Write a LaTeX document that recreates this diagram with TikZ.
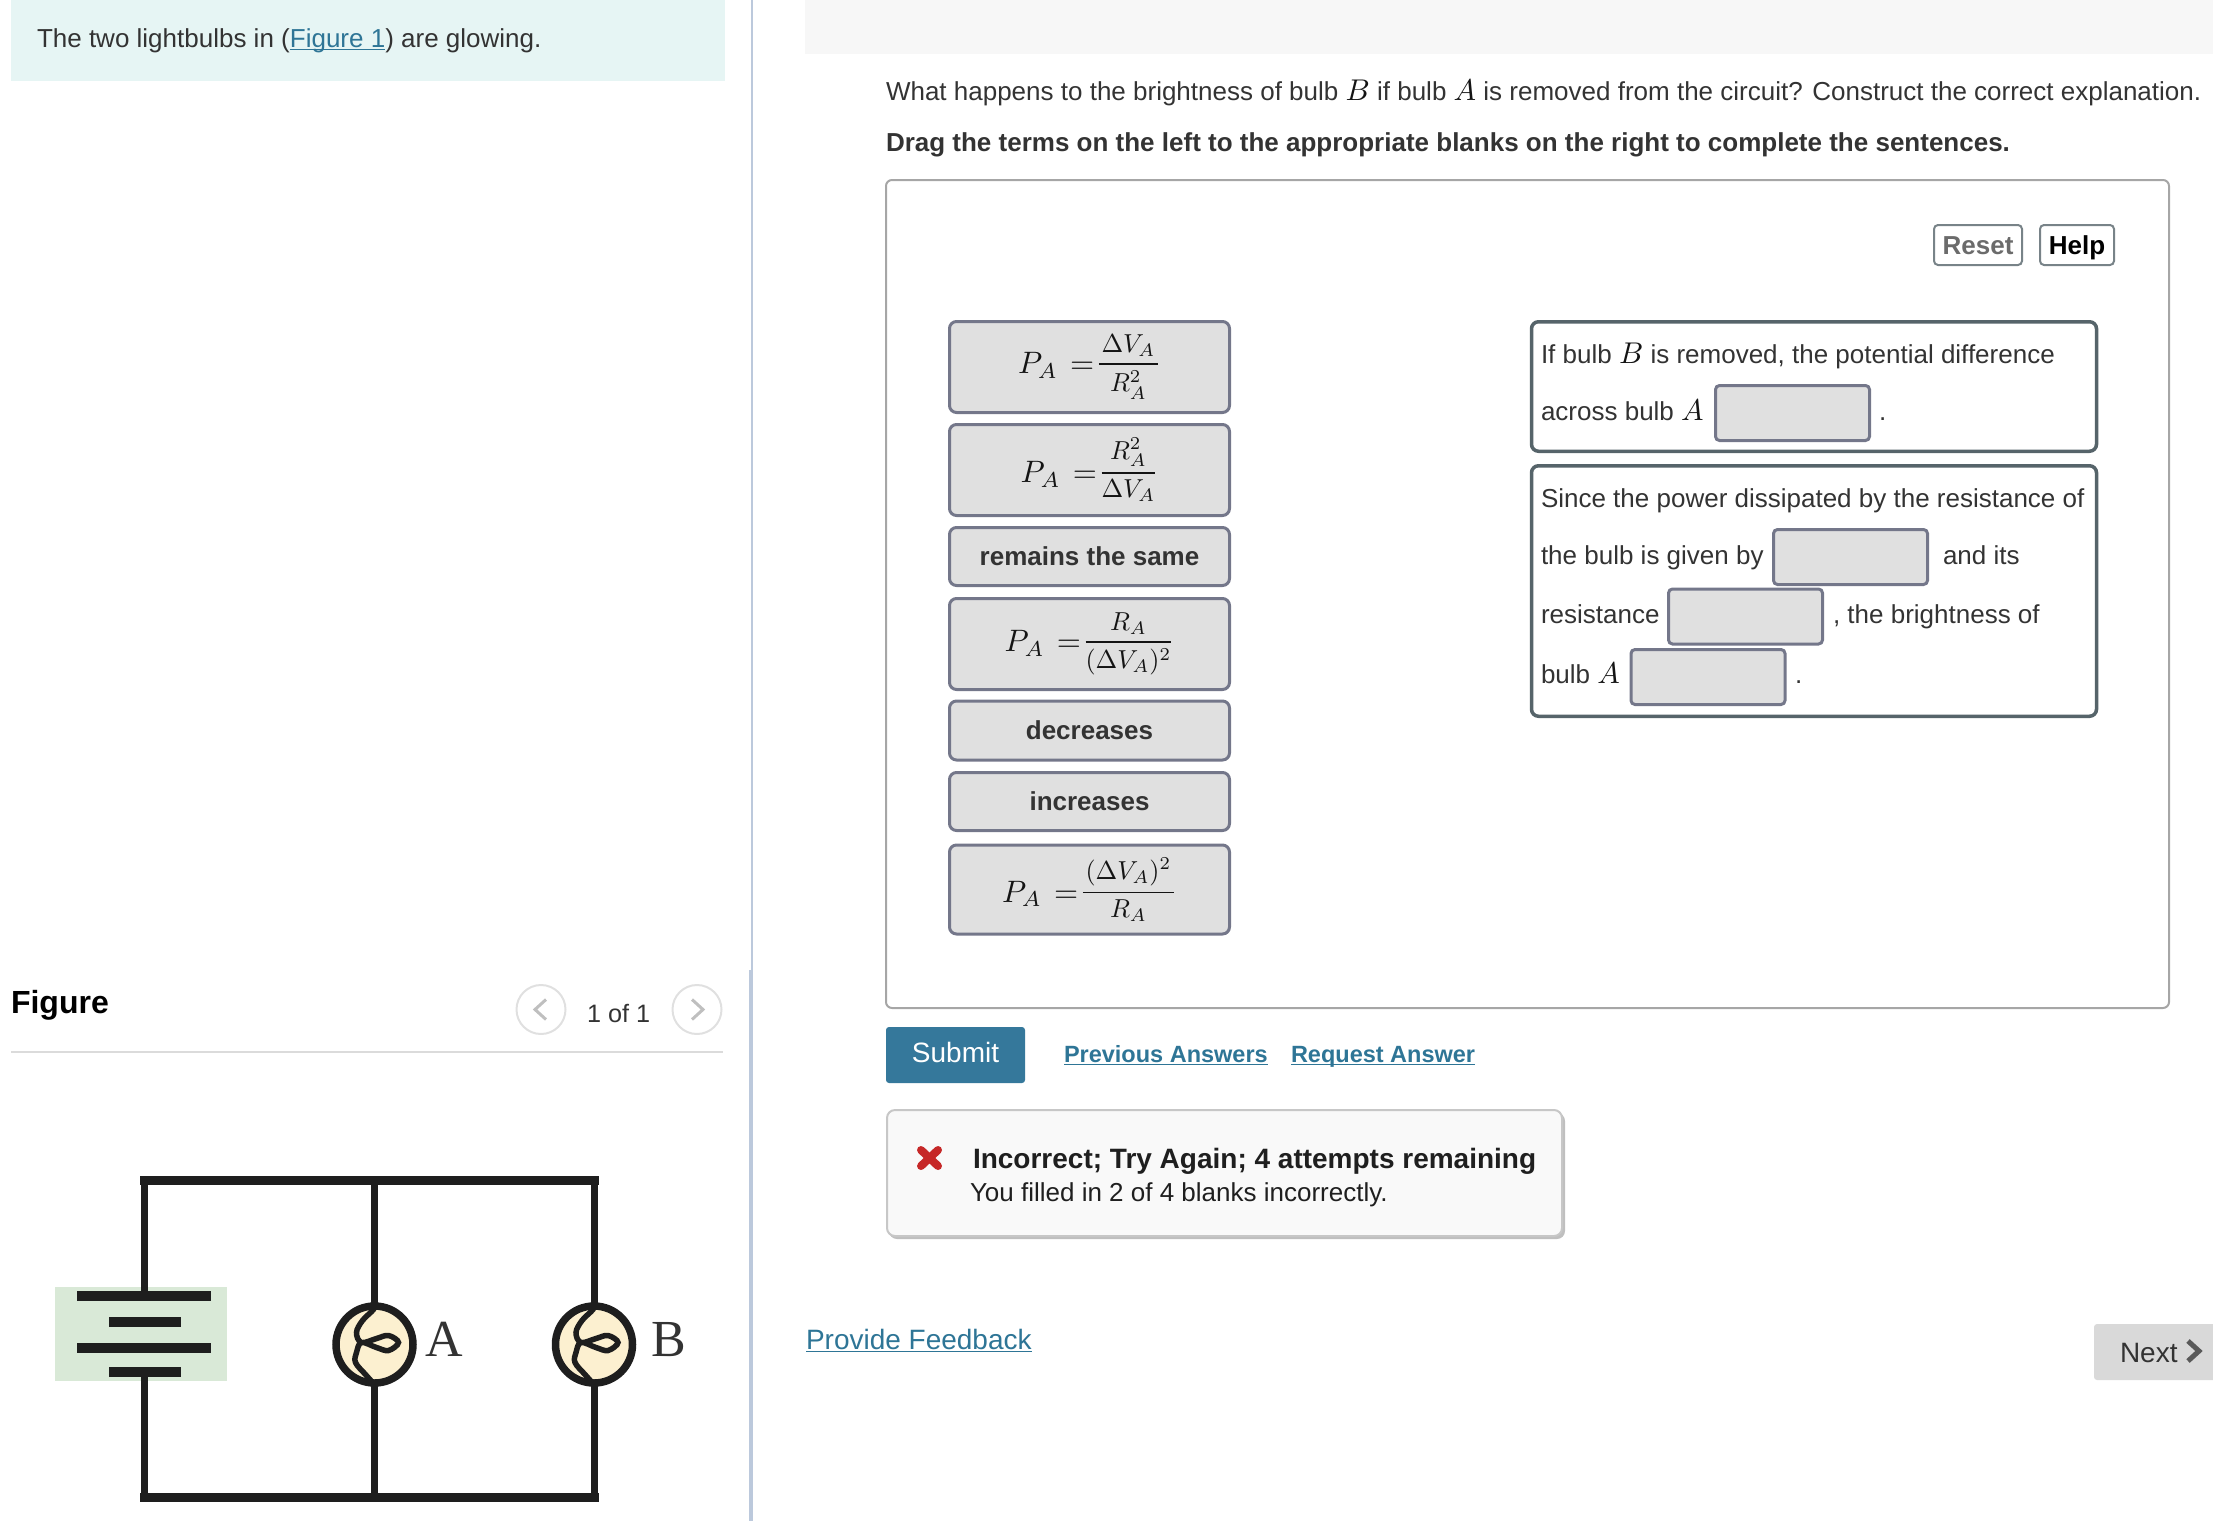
\documentclass[tikz,border=0pt]{standalone}
\usepackage{graphicx}
\usepackage[no-math]{fontspec}
\setmainfont{Liberation Sans}
\newfontfamily\labelserif{Liberation Serif}
\definecolor{inkgray}{HTML}{333333}
\definecolor{linkblue}{HTML}{2E7596}
\definecolor{termline}{HTML}{74778A}
\definecolor{termfill}{HTML}{E0E0E0}
\definecolor{slotline}{HTML}{56646A}
\definecolor{submitblue}{HTML}{35789B}
\definecolor{tealpanel}{HTML}{E6F5F4}
\definecolor{dividerblue}{HTML}{BCC9DC}
\definecolor{batterygreen}{HTML}{D9E9D7}
\definecolor{bulbcream}{HTML}{FCF0D0}
\definecolor{wireblack}{HTML}{1E1E1E}
\definecolor{crossred}{HTML}{C62828}
\newsavebox{\linkbox}
\newcommand{\mathvar}[1]{\scalebox{3}{\fontsize{10}{12}\selectfont\color{black!92}$#1$}}
\newcommand{\powerterm}[2]{\color{black!92}\raisebox{-3.1pt}{\scalebox{3.1}{\fontsize{10}{12}\selectfont$P_A\mskip2mu=$}}\kern1.5pt\scalebox{2.6}{\fontsize{10}{12}\selectfont$\displaystyle{\kern1pt #1\kern1pt\above.75pt #2}$}}
\newcommand{\linktext}[1]{\sbox{\linkbox}{#1}\rlap{\rule[-3pt]{\wd\linkbox}{1.5pt}}\usebox{\linkbox}}
\tikzset{
    body/.style={anchor=base west,inner sep=0pt,outer sep=0pt,text=inkgray,font=\fontsize{26}{30}\selectfont},
    strong/.style={body,font=\fontsize{26}{30}\selectfont\bfseries},
    termbox/.style={draw=termline,fill=termfill,line width=3pt,rounded corners=7pt,inner sep=0pt,outer sep=0pt,
        minimum width=280pt,text=inkgray,font=\fontsize{26}{30}\selectfont\bfseries},
    slotbox/.style={termbox,minimum width=154pt,minimum height=55pt,rounded corners=4pt},
    sentence/.style={draw=slotline,line width=3.5pt,rounded corners=7pt,inner sep=0pt,outer sep=0pt,minimum width=565pt},
    smallbutton/.style={draw=slotline!80,line width=2pt,rounded corners=4pt,inner sep=0pt,outer sep=0pt,minimum height=40pt,
        text height=21pt,text depth=3pt,font=\fontsize{26}{30}\selectfont\bfseries},
    navcircle/.style={circle,draw=black!12,line width=2pt,minimum size=49pt,inner sep=0pt},
    navarrow/.style={draw=black!25,line width=3pt},
    wirebar/.style={draw=wireblack,line width=9pt,line cap=rect},
    wireleg/.style={draw=wireblack,line width=7pt},
    plate/.style={fill=wireblack,inner sep=0pt,outer sep=0pt,minimum height=10pt},
    bulbnode/.style={circle,draw=wireblack,fill=bulbcream,line width=7.5pt,minimum size=77pt,inner sep=0pt,outer sep=0pt},
    filament/.pic={
        \draw[wireblack,line width=5.5pt] plot[smooth,tension=.6] coordinates
            {(0,-40) (-1,-35) (-12,-24) (-18,-12) (-13,-2) (2,-6) (14,-9) (24,-2) (14,6) (2,3) (-13,-2) (-18,8) (-19,18) (-9,30) (0,40)};
    }
}
\begin{document}
\begin{tikzpicture}[x=1pt,y=-1pt]
    \useasboundingbox (0,0) rectangle (2213,1521);

    % left column
    \fill[tealpanel] (11,0) rectangle (725,81);
    \node[body] (intro) at (37,47) {The two lightbulbs in (\textcolor{linkblue}{\linktext{Figure 1}}) are glowing.};
    \draw[dividerblue,line width=2pt] (752,0) -- (752,970);
    \draw[dividerblue,line width=4pt] (751,970) -- (751,1521);

    \node[strong,font=\fontsize{32}{36}\selectfont\bfseries,text=black] (figtitle) at (11,1013) {Figure};
    \node[navcircle] (navprev) at (541,1009.5) {};
    \node[navcircle] (navnext) at (697,1009.5) {};
    \draw[navarrow] (546,999.5) -- (535,1009.5) -- (546,1019.5);
    \draw[navarrow] (692,999.5) -- (703,1009.5) -- (692,1019.5);
    \node[body,font=\fontsize{25.2}{30}\selectfont] (pagecount) at (587,1022) {1 of 1};
    \draw[black!14,line width=2pt] (11,1051.5) -- (723,1051.5);

    % circuit
    \node[fill=batterygreen,inner sep=0pt,minimum width=172pt,minimum height=94pt] (battery) at (141,1334) {};
    \node[plate,minimum width=134pt] (plateOne) at (144,1296) {};
    \node[plate,minimum width=72pt] (plateTwo) at (145,1322) {};
    \node[plate,minimum width=134pt] (plateThree) at (144,1348) {};
    \node[plate,minimum width=72pt] (plateFour) at (145,1372) {};
    \coordinate (cornerTL) at (144,1180);
    \coordinate (cornerTR) at (594,1180);
    \coordinate (cornerBL) at (144,1497);
    \coordinate (cornerBR) at (594,1497);
    \coordinate (joinTop) at (374.5,1180);
    \coordinate (joinBot) at (374.5,1497);
    \node[bulbnode] (bulbA) at (374.5,1344.5) {};
    \node[bulbnode] (bulbB) at (594,1344.5) {};
    \draw[wireleg] (cornerTL) -- (plateOne.north -| cornerTL);
    \draw[wireleg] (plateFour.south -| cornerBL) -- (cornerBL);
    \draw[wireleg] (joinTop) -- (bulbA.north);
    \draw[wireleg] (bulbA.south) -- (joinBot);
    \draw[wireleg] (cornerTR) -- (bulbB.north);
    \draw[wireleg] (bulbB.south) -- (cornerBR);
    \draw[wirebar] (cornerTL) -- (cornerTR);
    \draw[wirebar] (cornerBL) -- (cornerBR);
    \pic at (bulbA) {filament};
    \pic at (bulbB) {filament};
    \node[anchor=base west,inner sep=0pt,text=inkgray,font=\labelserif\fontsize{52}{54}\selectfont] (labelA) at (425,1356) {A};
    \node[anchor=base west,inner sep=0pt,text=inkgray,font=\labelserif\fontsize{52}{54}\selectfont] (labelB) at (651,1356) {B};

    % right column
    \fill[black!3] (805,0) rectangle (2213,54);
    \node[body] (question) at (886,100) {What happens to the brightness of bulb \mathvar{B} if bulb \mathvar{A} is removed from the circuit? Construct the correct explanation.};
    \node[strong] (instruction) at (886,151) {Drag the terms on the left to the appropriate blanks on the right to complete the sentences.};
    \draw[black!35,line width=2pt,rounded corners=6pt] (886,180) rectangle (2169,1008);

    \node[smallbutton,text=black!58,minimum width=88pt] (reset) at (1978,245) {Reset};
    \node[smallbutton,text=black,minimum width=74pt] (help) at (2077,245) {Help};

    % terms
    \node[termbox,minimum height=91pt] (termOne) at (1089.5,367) {\powerterm{\Delta V_A}{R_A^2}};
    \node[termbox,minimum height=91pt] (termTwo) at (1089.5,470) {\powerterm{R_A^2}{\Delta V_A}};
    \node[termbox,minimum height=58pt] (termSame) at (1089.5,556.5) {remains the same};
    \node[termbox,minimum height=91pt] (termThree) at (1089.5,644) {\powerterm{R_A}{(\Delta V_A)^2}};
    \node[termbox,minimum height=59pt] (termLess) at (1089.5,730.5) {decreases};
    \node[termbox,minimum height=58pt] (termMore) at (1089.5,801.5) {increases};
    \node[termbox,minimum height=89pt] (termFour) at (1089.5,889.5) {\powerterm{(\Delta V_A)^2}{R_A}};

    % sentences
    \node[sentence,minimum height=129.5pt] (firstbox) at (1814,386.5) {};
    \node[sentence,minimum height=250.5pt] (secondbox) at (1814,591) {};
    \node[slotbox] (slotOne) at (1792.5,413) {};
    \node[slotbox] (slotTwo) at (1850.5,557) {};
    \node[slotbox] (slotThree) at (1745.5,616.5) {};
    \node[slotbox] (slotFour) at (1708,677) {};
    \node[body] (lineOne) at (1541,363) {If bulb \mathvar{B} is removed, the potential difference};
    \node[body] (lineTwo) at (1541,420) {across bulb \mathvar{A}};
    \node[body] (dotOne) at (1879,420) {.};
    \node[body] (lineThree) at (1541,507) {Since the power dissipated by the resistance of};
    \node[body] (lineFour) at (1541,564) {the bulb is given by};
    \node[body] (lineFive) at (1943,564) {and its};
    \node[body] (lineSix) at (1541,623) {resistance};
    \node[body] (lineSeven) at (1833,623) {, the brightness of};
    \node[body] (lineEight) at (1541,683) {bulb \mathvar{A}};
    \node[body] (dotTwo) at (1795,683) {.};

    % submit row
    \node[fill=submitblue,rounded corners=3pt,text=white,inner sep=0pt,minimum width=139pt,minimum height=56pt,text height=21pt,text depth=6pt,font=\fontsize{28}{32}\selectfont] (submit) at (955.5,1055) {Submit};
    \node[strong,font=\fontsize{23.5}{28}\selectfont\bfseries,text=linkblue] (previous) at (1064,1062) {\linktext{Previous Answers}};
    \node[strong,font=\fontsize{23.5}{28}\selectfont\bfseries,text=linkblue] (request) at (1291,1062) {\linktext{Request Answer}};

    % feedback
    \fill[black!25,rounded corners=8pt] (889,1113) rectangle (1565,1239);
    \draw[black!22,fill=black!2.5,line width=2pt,rounded corners=8pt] (887,1110) rectangle (1562,1236);
    \draw[crossred,line width=8pt,line cap=round] (921,1150) -- (938,1166);
    \draw[crossred,line width=8pt,line cap=round] (938,1150) -- (921,1166);
    \node[strong,font=\fontsize{28}{32}\selectfont\bfseries,text=black!88] (verdict) at (973,1168) {Incorrect; Try Again; 4 attempts remaining};
    \node[body,text=black!88] (detail) at (970,1201) {You filled in 2 of 4 blanks incorrectly.};

    % footer
    \node[body,font=\fontsize{28}{32}\selectfont,text=linkblue] (provide) at (806,1349) {\linktext{Provide Feedback}};
    \fill[black!15,rounded corners=3pt] (2094,1324) rectangle (2220,1380);
    \node[body,font=\fontsize{28}{32}\selectfont] (nextlabel) at (2120,1362) {Next};
    \draw[black!65,line width=5pt] (2188,1341) -- (2199,1351) -- (2188,1361);
\end{tikzpicture}
\end{document}
